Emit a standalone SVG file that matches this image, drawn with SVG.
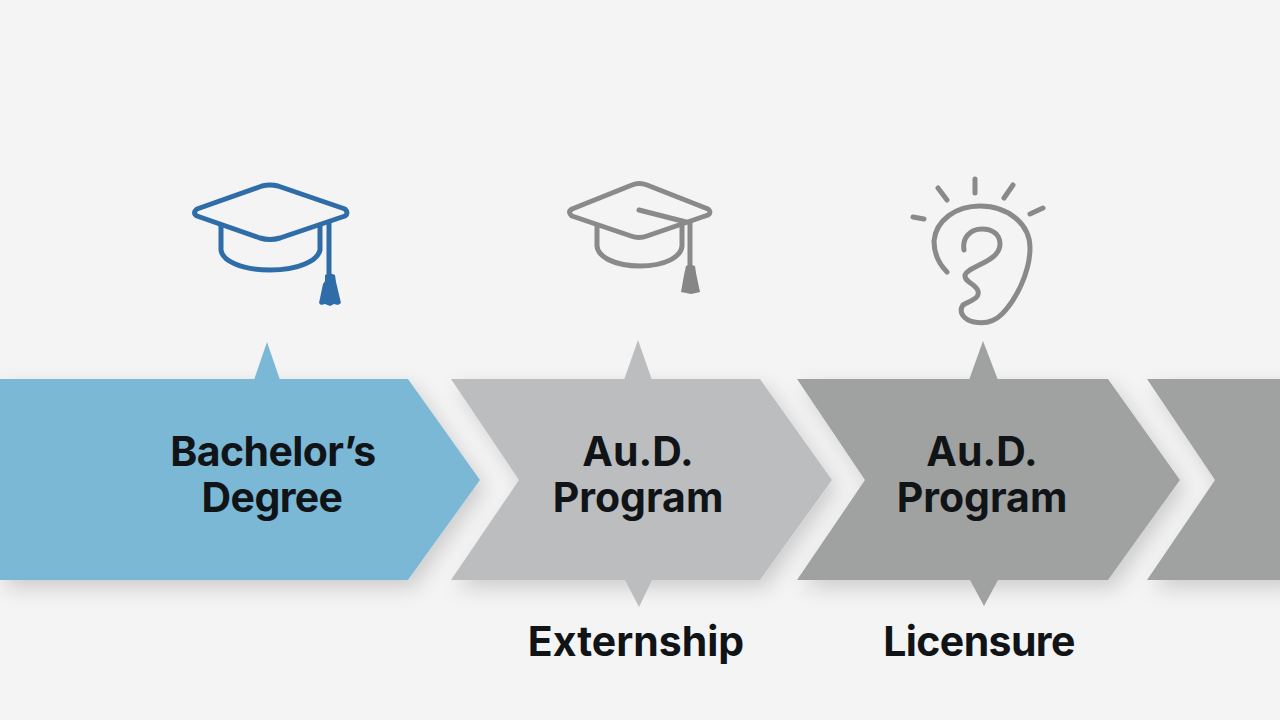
<svg xmlns="http://www.w3.org/2000/svg" width="1280" height="720" viewBox="0 0 1280 720">
<style>
.lbl{font-family:"Inter","Noto Sans",sans-serif;font-weight:700;font-size:41px;fill:#111417;text-anchor:middle}
.tight{letter-spacing:-0.6px}
.ln{fill:none;stroke-width:5;stroke-linecap:round;stroke-linejoin:round}
.blue{stroke:#2f6da8}.gr{stroke:#8a8a8a}
.blue1{fill:#7ab8d6}.g1{fill:#bbbdbf}.g2{fill:#a0a1a1}
</style>
<defs><filter id="sh" x="-10%" y="-10%" width="125%" height="130%"><feDropShadow dx="6" dy="8" stdDeviation="10" flood-color="#000" flood-opacity="0.16"/></filter></defs>
<rect width="1280" height="720" fill="#f4f4f4"/>
<g id="step-bachelor">
<path class="blue1" filter="url(#sh)" d="M0 379H408L480 480L408 580H0Z"/>
<text class="lbl tight" x="273" y="466">Bachelor’s</text>
<text class="lbl tight" x="272" y="512">Degree</text>
</g>
<g id="step-aud-1">
<path class="g1" filter="url(#sh)" d="M451 379H760L832 480L760 580H451L519 480Z"/>
<text class="lbl" x="638" y="466">Au.D.</text>
<text class="lbl" x="638" y="512">Program</text>
</g>
<g id="step-aud-2">
<path class="g2" filter="url(#sh)" d="M797 379H1108L1180 480L1108 580H797L865 480Z"/>
<text class="lbl" x="982" y="466">Au.D.</text>
<text class="lbl" x="982" y="512">Program</text>
</g>
<g id="step-next">
<path class="g2" filter="url(#sh)" d="M1147 379H1290V580H1147L1215 480Z"/>
</g>
<g id="connectors">
<path class="blue1" d="M267 342L254 380H280Z"/>
<path class="g1" d="M638 340L624 380H652Z"/>
<path class="g2" d="M983 341L969 380H998Z"/>
<path class="g1" d="M639 607L625 580H652Z"/>
<path class="g2" d="M984 606L970 580H998Z"/>
</g>
<g id="icon-cap-blue">
<path class="ln blue" d="M197 209L262 186Q270 184 278 186L345 209Q349 213 345 216L280 238Q270 241 260 238L197 216Q192 213 197 209Z"/>
<path class="ln blue" d="M221 226V250C222 260 240 270 270 270C300 270 318 260 320 250V226"/>
<path class="ln blue" d="M329 222V278"/>
<path fill="#2f6da8" d="M325 275Q330 272 335 275L336 282L341 303L338 305L334 304L330 306L325 304L321 305L319 303L323 284L325 281Z"/>
</g>
<g id="icon-cap-gray">
<path class="ln gr" d="M572 209L632 185Q639 182 647 185L708 209Q712 212 708 215L647 236Q639 239 631 236L572 216Q567 212 572 209Z"/>
<path class="ln gr" d="M639 210L686 222"/>
<path class="ln gr" d="M597 226V246C598 257 615 266 640 266C665 266 681 257 682 246V226"/>
<path class="ln gr" d="M690 222V266"/>
<path fill="#868686" d="M686 266Q690 264 695 266L696 273L700 292L696 293L691 294L686 293L681 292L684 275Z"/>
</g>
<g id="icon-ear">
<path class="ln gr" d="M947 272C937 262 934 252 934 241C936 220 956 206 980 206C1008 206 1030 224 1030 248C1030 272 1016 300 1002 314C994 322 984 324 974 322C964 320 958 312 963 305C972 300 980 298 978 291C976 284 964 282 965 275C968 266 1000 262 1000 244C1000 234 992 229 982 229C970 229 962 238 964 250"/>
<path class="ln gr" d="M975 179V193M938 188L947 200M1013 185L1004 198M1043 208L1030 214M913 217L924 219"/>
</g>
<g id="label-externship"><text class="lbl" x="636" y="656">Externship</text></g>
<g id="label-licensure"><text class="lbl tight" x="979" y="656">Licensure</text></g>
</svg>
